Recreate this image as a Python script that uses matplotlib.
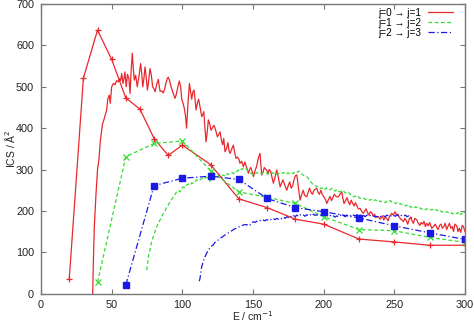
import numpy as np
import matplotlib
matplotlib.use("Agg")
import matplotlib.pyplot as plt

plt.rcParams["font.family"] = ["Liberation Sans", "DejaVu Sans"]

# coarse close-coupling points (markers)
e_01 = [20, 30, 40, 50, 60, 70, 80, 90, 100, 120, 140, 160, 180, 200, 225, 250, 275, 300]
ics_01 = [36, 521, 637, 566, 473, 446, 375, 334, 359, 312, 229, 208, 180, 168, 132, 125, 117, 117]

e_12 = [40, 60, 80, 100, 120, 140, 160, 180, 200, 225, 250, 275, 300]
ics_12 = [28, 331, 363, 369, 297, 246, 233, 218, 186, 155, 152, 136, 124]

e_23 = [60, 80, 100, 120, 140, 160, 180, 200, 225, 250, 275, 300]
ics_23 = [21, 261, 279, 284, 276, 230, 208, 198, 183, 164, 147, 131]

# fine energy scans
fine_e_01 = [36.6, 37.0, 37.7, 38.9, 40.0, 41.0, 42.0, 43.5, 44.5, 45.3, 46.5, 47.2, 48.3, 49.0,
             50.0, 51.2, 52.5, 53.5, 54.7, 55.5, 56.3, 57.1, 58.0, 58.7, 59.4, 60.3, 61.2, 62.2,
             63.0, 63.8, 64.6, 65.3, 66.0, 67.0, 68.1, 69.3, 70.5, 71.3, 72.0, 72.8, 73.6, 74.5,
             75.3, 76.2, 77.1, 78.0, 79.0, 80.0, 80.7, 81.8, 83.0, 83.7, 84.3, 85.5, 86.5, 87.5,
             88.5, 89.3, 90.1, 91.0, 92.0, 93.0, 94.0, 94.8, 95.6, 96.5, 97.2, 97.9, 98.8, 99.6,
             100.5, 101.4, 102.2, 103.0, 104.0, 105.0, 105.8, 106.6, 107.5, 108.3, 109.0, 109.7,
             110.6, 111.5, 112.5, 113.7, 114.4, 115.2, 116.0, 116.8, 117.6, 118.4, 119.4, 120.3,
             121.2, 122.4, 123.6, 124.8, 125.8, 126.7, 127.7, 128.5, 129.3, 130.2, 131.2, 132.3,
             133.0, 133.8, 135.0, 136.1, 137.1, 138.0, 139.0, 140.0, 140.8, 142.0, 143.2, 144.2,
             145.0, 146.0, 146.7, 147.6, 148.5, 149.4, 150.3, 151.3, 152.3, 153.3, 154.0, 155.0,
             155.6, 156.2, 157.2, 158.0, 159.0, 159.7, 160.6, 161.5, 162.5, 163.5, 164.4, 165.5,
             166.8, 168.0, 169.2, 170.3, 171.2, 172.2, 173.9, 175.0, 176.0, 177.0, 178.0, 179.0,
             180.0, 181.0, 182.0, 183.3, 184.5, 185.5, 186.5, 188.0, 189.0, 190.0, 191.0, 192.0,
             193.2, 195.1, 196.0, 197.0, 198.0, 199.0, 200.5, 201.5, 202.2, 203.5, 204.5, 205.5,
             206.5, 207.5, 208.5, 209.3, 210.4, 211.5, 212.8, 213.6, 214.4, 215.5, 216.5, 217.5,
             218.5, 219.5, 220.5, 221.5, 222.5, 223.5, 224.5, 225.8, 227.0, 228.1, 229.0, 230.0,
             231.0, 232.0, 233.0, 234.0, 235.0, 236.0, 237.0, 238.7, 240.0, 241.5, 242.5, 243.5,
             244.6, 245.6, 246.5, 247.3, 248.2, 249.3, 250.5, 251.5, 252.5, 253.5, 254.5, 255.5,
             256.4, 257.5, 258.5, 259.5, 260.5, 261.5, 262.5, 263.5, 264.5, 265.9, 267.0, 268.0,
             269.0, 270.0, 271.0, 272.0, 273.0, 274.0, 275.0, 276.5, 277.7, 279.0, 280.0, 281.0,
             282.0, 283.0, 284.0, 285.0, 286.0, 287.0, 288.0, 289.0, 290.0, 291.0, 291.9, 292.8,
             294.2, 295.0, 296.0, 297.0, 298.0, 298.9, 300.0]
fine_ics_01 = [0, 70, 160, 240, 300, 325, 370, 410, 420, 430, 445, 470, 480, 460,
               500, 508, 505, 515, 512, 520, 515, 532, 508, 520, 536, 500, 530, 520,
               484, 540, 581, 545, 516, 528, 500, 525, 556, 530, 500, 520, 548, 520,
               492, 515, 544, 530, 500, 495, 488, 505, 518, 500, 489, 490, 485, 495,
               510, 520, 523, 515, 500, 490, 480, 472, 480, 494, 505, 514, 500, 470,
               460, 448, 430, 400, 460, 508, 490, 470, 488, 492, 470, 444,
               460, 470, 452, 428, 432, 440, 400, 367, 390, 420, 410, 395,
               400, 407, 395, 379, 385, 391, 370, 360, 375, 343, 350, 365,
               345, 339, 350, 359, 340, 327, 330, 325, 315, 320, 307, 318,
               310, 300, 291, 300, 305, 295, 283, 296, 305, 320, 330, 339,
               310, 287, 295, 305, 300, 299, 290, 300, 295, 280, 267, 280,
               299, 280, 258, 268, 275, 265, 250, 262, 270, 255, 260, 275,
               285, 287, 260, 226, 240, 250, 238, 234, 245, 255, 245, 240,
               250, 255, 245, 240, 250, 240, 232, 226, 218, 228, 235, 225,
               232, 240, 236, 234, 234, 240, 246, 230, 218, 225, 232, 222,
               215, 226, 218, 212, 220, 212, 205, 206, 198, 194, 200, 205,
               196, 190, 198, 195, 188, 192, 185, 186, 180, 188, 178, 185,
               182, 176, 186, 190, 194, 190, 198, 190, 192, 185, 180, 178,
               174, 182, 176, 168, 180, 185, 176, 170, 182, 178, 170, 165,
               172, 168, 175, 162, 170, 164, 172, 158, 162, 168, 160, 155,
               165, 168, 158, 162, 170, 155, 163, 170, 158, 162, 150, 168,
               164, 150, 158, 148, 165, 162, 150]

fine_e_12 = [74.8, 75.5, 76.3, 77.1, 78.2, 79.5, 80.7, 81.9, 83.0, 84.2, 85.4, 86.6, 87.8, 89.0,
             90.2, 91.3, 92.5, 93.6, 94.8, 96.0, 97.2, 98.4, 99.5, 100.7, 101.9, 103.1, 104.3,
             105.5, 106.7, 108.0, 109.0, 110.2, 111.4, 112.5, 113.7, 114.9, 116.1, 117.3, 118.5,
             119.7, 120.8, 122.0, 123.2, 124.3, 125.5, 126.7, 128.0, 129.0, 130.2, 131.4, 132.6,
             133.8, 135.0, 136.2, 137.3, 138.5, 139.7, 140.8, 142.0, 143.2, 144.4, 145.5, 146.7,
             148.0, 149.0, 150.3, 151.5, 152.7, 153.8, 155.0, 156.2, 157.4, 158.5, 159.7, 161.0,
             162.0, 163.2, 164.4, 165.6, 166.8, 168.0, 169.1, 170.3, 171.5, 172.7, 173.9, 175.0,
             176.2, 177.4, 178.6, 179.7, 181.0, 182.0, 183.3, 184.5, 185.6, 186.8, 188.0, 189.2,
             190.4, 191.5, 192.7, 193.9, 195.0, 196.3, 197.5, 198.7, 199.9, 201.0, 202.2, 203.4,
             204.6, 205.8, 206.9, 208.1, 209.3, 210.5, 211.7, 212.8, 214.0, 215.2, 216.4, 217.6,
             218.7, 219.9, 221.0, 222.3, 223.4, 224.6, 225.8, 227.0, 228.4, 229.5, 230.7, 232.0,
             233.0, 234.2, 235.4, 236.6, 237.8, 239.0, 240.0, 241.3, 242.5, 243.7, 244.9, 246.0,
             247.2, 248.4, 249.6, 250.8, 252.0, 253.1, 254.3, 255.5, 256.7, 257.9, 259.0, 260.2,
             261.4, 262.6, 263.8, 265.0, 266.1, 267.3, 268.5, 269.7, 270.9, 272.0, 273.2, 274.4,
             275.6, 276.8, 278.0, 279.1, 280.3, 281.5, 282.7, 283.9, 285.0, 286.2, 287.4, 288.6,
             289.8, 291.0, 292.1, 293.3, 294.5, 295.7, 296.8, 298.0, 299.2, 300.0]
fine_ics_12 = [57, 75, 95, 106, 125, 138, 150, 162, 170, 178, 186, 194, 200, 210,
               215, 222, 228, 234, 240, 246, 250, 246, 255, 258, 256, 263, 265,
               262, 268, 266, 271, 275, 272, 275, 279, 276, 280, 281, 278,
               272, 280, 278, 283, 283, 282, 289, 285, 287, 284, 290, 288,
               291, 293, 290, 296, 295, 298, 303, 300, 303, 305, 300, 296,
               292, 290, 287, 290, 293, 290, 292, 290, 293, 292, 291, 289,
               291, 294, 290, 292, 288, 291, 289, 292, 291, 294, 290, 292,
               289, 292, 290, 294, 292, 296, 295, 290, 286, 284, 283, 278,
               272, 268, 263, 262, 258, 260, 255, 254, 257, 252, 256, 254,
               251, 255, 250, 248, 252, 247, 246, 250, 248, 244, 242, 245,
               240, 238, 234, 236, 232, 234, 230, 232, 230, 228, 230, 227,
               226, 229, 225, 227, 224, 226, 222, 224, 223, 220, 224, 222,
               225, 221, 222, 218, 220, 216, 218, 214, 215, 212, 214, 209,
               211, 207, 206, 210, 208, 205, 207, 204, 206, 203, 205, 201,
               202, 204, 200, 203, 202, 198, 200, 197, 199, 196, 198, 195,
               197, 193, 194, 196, 193, 198, 191, 194, 198, 196]

fine_e_23 = [112.0, 112.5, 113.7, 115.0, 116.0, 117.3, 118.4, 119.5, 120.7, 121.9, 123.1, 124.3,
             125.5, 126.7, 128.0, 129.0, 130.2, 131.4, 132.6, 133.8, 135.0, 136.2, 137.3, 138.5,
             139.7, 140.9, 142.0, 143.2, 144.4, 145.6, 146.8, 148.0, 149.1, 150.3, 151.5, 152.7,
             153.8, 155.0, 156.2, 157.3, 158.5, 159.7, 160.9, 162.1, 163.2, 164.4, 165.6, 166.8,
             168.0, 169.1, 170.3, 171.5, 172.7, 173.9, 175.0, 176.2, 177.4, 178.6, 179.8, 181.0,
             182.1, 183.3, 184.5, 185.7, 186.9, 188.0, 189.2, 190.4, 191.6, 192.8, 194.0, 195.1,
             196.3, 197.5, 198.7, 199.9, 201.0, 202.2, 203.4, 204.6, 205.8, 207.0, 208.1, 209.3,
             210.5, 211.7, 212.9, 214.0, 215.2, 216.4, 217.6, 218.8, 220.0, 221.1, 222.3, 223.5,
             224.7, 225.9, 227.0, 228.2, 229.4, 230.6, 231.8, 233.0, 234.1, 235.3, 236.5, 237.7,
             238.9, 240.1, 241.2, 242.4, 243.6, 244.8, 246.0, 247.2, 248.3, 249.5, 250.7, 251.9,
             253.1, 254.3, 255.4, 256.7, 257.8, 259.0, 260.2, 261.4, 262.5]
fine_ics_23 = [30, 37, 65, 80, 89, 98, 106, 110, 115, 118, 124, 127,
               130, 134, 136, 139, 142, 144, 147, 150, 152, 155, 157, 158,
               161, 163, 164, 166, 167, 166, 169, 166, 171, 174, 172, 175,
               174, 177, 175, 178, 176, 179, 177, 180, 178, 181, 179, 182,
               180, 183, 181, 185, 182, 186, 184, 188, 185, 189, 186, 190,
               187, 191, 188, 190, 187, 191, 188, 191, 188, 192, 189, 191,
               188, 190, 187, 191, 188, 190, 186, 189, 186, 188, 185, 188,
               186, 190, 187, 189, 186, 190, 187, 189, 186, 190, 188, 191,
               187, 190, 186, 189, 186, 190, 187, 189, 186, 188, 185, 187,
               184, 187, 185, 188, 186, 190, 187, 189, 186, 189, 187, 190,
               188, 191, 188, 187, 190, 186, 188, 184, 182]

labels = ["j=0 \u2192 j=1", "j=1 \u2192 j=2", "j=2 \u2192 j=3"]
red, green, blue = "#e8282c", "#33dd33", "#1a1ae6"
dashed = (0, (3, 2))
dashdot = (0, (5, 2, 1, 2))

fig = plt.figure(figsize=(4.74, 3.22), dpi=100)
ax = fig.add_axes([0.0865, 0.088, 0.8945, 0.8995])

lw = 0.9
ax.plot(fine_e_01, fine_ics_01, color=red, lw=lw, label=labels[0])
ax.plot(fine_e_12, fine_ics_12, color=green, lw=lw, ls=dashed, label=labels[1])
ax.plot(fine_e_23, fine_ics_23, color=blue, lw=lw, ls=dashdot, label=labels[2])

ax.plot(e_01, ics_01, color=red, lw=lw, marker="+", ms=4.5, mew=0.9)
ax.plot(e_12, ics_12, color=green, lw=lw, ls=dashed, marker="x", ms=4, mew=0.9)
ax.plot(e_23, ics_23, color=blue, lw=lw, ls=dashdot, marker="s", ms=4.2,
        mfc=blue, mec=blue)

ax.set_xlim(0, 300)
ax.set_ylim(0, 700)
ax.set_xticks(range(0, 301, 50))
ax.set_yticks(range(0, 701, 100))

for s in ax.spines.values():
    s.set_color("#777777")
    s.set_linewidth(1.0)
ax.tick_params(direction="in", length=3.5, width=0.8, color="#777777",
               top=True, right=True, labelsize=7.8, labelcolor="#222222")
ax.tick_params(axis="y", pad=5)
ax.tick_params(axis="x", pad=4.5)

ax.set_xlabel("E / cm$^{-1}$", fontsize=7.5, color="#222222", labelpad=-0.8)
ax.set_ylabel("ICS / \u00c5$^2$", fontsize=7.5, color="#222222")
ax.yaxis.set_label_coords(-0.057, 0.5)

ax.legend(loc="upper right", bbox_to_anchor=(0.972, 0.988), frameon=False,
          markerfirst=False, fontsize=7.2, labelspacing=0.0, handlelength=2.5,
          handletextpad=0.7, borderpad=0, borderaxespad=0)

fig.savefig("out.png", dpi=100)
